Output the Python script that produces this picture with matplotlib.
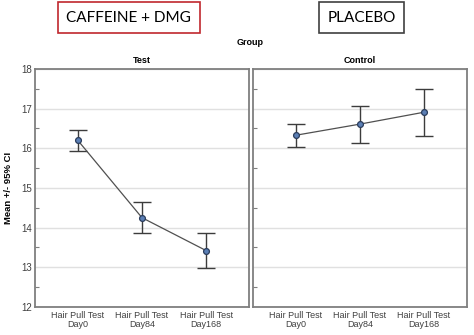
import matplotlib
matplotlib.use("Agg")
from matplotlib import pyplot as plt
from matplotlib.ticker import MultipleLocator

plt.rcParams['font.family'] = ['Liberation Sans', 'DejaVu Sans']

days = ["Hair Pull Test\nDay0", "Hair Pull Test\nDay84", "Hair Pull Test\nDay168"]

test_mean = [16.20, 14.25, 13.42]
test_low = [15.93, 13.86, 12.98]
test_high = [16.46, 14.65, 13.86]

ctrl_mean = [16.33, 16.61, 16.91]
ctrl_low = [16.04, 16.14, 16.32]
ctrl_high = [16.61, 17.07, 17.49]

fig = plt.figure(figsize=(4.74, 3.35), dpi=100)
ax1 = fig.add_axes([0.074, 0.084, 0.451, 0.710])
ax2 = fig.add_axes([0.5345, 0.084, 0.450, 0.710], sharey=ax1)

frame = "#7f7f7f"
for ax, mean, low, high, name in [(ax1, test_mean, test_low, test_high, "Test"),
                                   (ax2, ctrl_mean, ctrl_low, ctrl_high, "Control")]:
    x = list(range(len(days)))
    err = [[m - l for m, l in zip(mean, low)], [h - m for m, h in zip(mean, high)]]
    ax.errorbar(x, mean, yerr=err, fmt="none", ecolor="#3c3c3c", elinewidth=1.0,
                capsize=6.5, capthick=1.0, zorder=3)
    ax.plot(x, mean, color="#505050", lw=0.9, zorder=3)
    ax.plot(x, mean, "o", ms=4.2, mfc="#5b7fb5", mec="#2b3d5c", mew=0.9, zorder=4)
    ax.set_xlim(-2 / 3, 2 + 2 / 3)
    ax.set_ylim(12, 18)
    ax.yaxis.set_major_locator(MultipleLocator(1))
    ax.yaxis.set_minor_locator(MultipleLocator(0.5))
    ax.grid(axis="y", which="major", color="#e0e0e0", lw=1.0, zorder=0)
    ax.set_xticks(x)
    ax.set_xticklabels(days, fontsize=6.5, color="#404040", linespacing=0.95)
    ax.tick_params(axis="x", length=0, pad=3)
    ax.tick_params(axis="y", which="major", length=0, labelsize=7,
                   labelcolor="#404040", pad=2)
    ax.tick_params(axis="y", which="minor", direction="in", length=3,
                   color=frame, width=0.8)
    for s in ax.spines.values():
        s.set_color(frame)
        s.set_linewidth(1.3)
    ax.set_title(name, fontsize=6.5, fontweight="bold", pad=4)

ax2.tick_params(axis="y", labelleft=False)
ax1.set_ylabel("Mean +/- 95% CI", fontsize=6.8, fontweight="bold", labelpad=6)

fig.text(0.528, 0.872, "Group", fontsize=6.5, fontweight="bold", ha="center", va="center")

fig.text(0.272, 0.947, "CAFFEINE + DMG", fontsize=11, family=["Lato", "DejaVu Sans"],
         ha="center", va="center",
         bbox=dict(boxstyle="square,pad=0.55", fc="white", ec="#c0272d", lw=1.2))
fig.text(0.763, 0.947, "PLACEBO", fontsize=11, family=["Lato", "DejaVu Sans"],
         ha="center", va="center",
         bbox=dict(boxstyle="square,pad=0.55", fc="white", ec="#404040", lw=1.2))

fig.savefig("out.png", dpi=100)
